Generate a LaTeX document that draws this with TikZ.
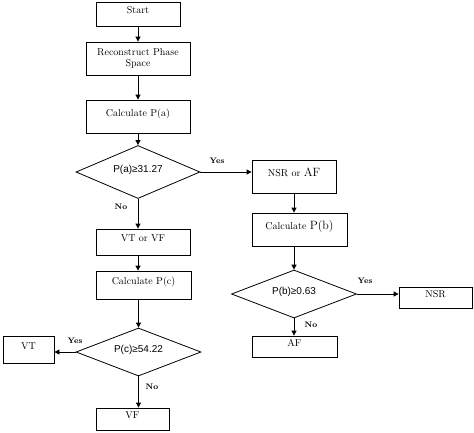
\documentclass[tikz,border=0pt]{standalone}
\usepackage{fontspec}
\usepackage{tikz}
\usetikzlibrary{shapes.geometric,arrows.meta}
\newfontfamily\diafont{Liberation Sans}

\tikzset{
  box/.style={draw, rectangle, inner sep=0pt, text height=7pt, text depth=8pt, font=\fontsize{10}{11}\selectfont},
  dec/.style={draw, diamond, aspect=2.3, inner sep=0pt, text height=7pt, text depth=6pt, font=\diafont\fontsize{10}{11}\selectfont},
  yn/.style={font=\bfseries\fontsize{8}{9}\selectfont, inner sep=0pt},
  arr/.style={-{Triangle[length=5pt,width=5pt]}},
}

\begin{document}
\begin{tikzpicture}[x=1pt, y=-1pt, line width=0.8pt]
			\useasboundingbox (0,0) rectangle (474,432);
			\node[box, minimum width=84pt, minimum height=24pt] (start) at (138,14) {Start};
			\node[draw, rectangle, inner sep=0pt, align=center, font=\fontsize{10}{11}\selectfont, minimum width=104pt, minimum height=33pt] (recon) at (138,58.5) {Reconstruct Phase\\Space};
			\node[box, minimum width=104pt, minimum height=33pt] (calca) at (138,116.5) {Calculate P(a)};
			\node[dec, minimum width=124pt, minimum height=53pt] (deca) at (138,172) {P(a)≥31.27};
			\node[box, minimum width=84pt, minimum height=33pt] (nsraf) at (294,176.5) {NSR or {\fontsize{12}{12}\selectfont AF}};
			\node[box, minimum width=95pt, minimum height=33pt] (calcb) at (299.5,229.5) {Calculate {\fontsize{12}{12}\selectfont P(b)}};
			\node[dec, minimum width=125pt, minimum height=48pt] (decb) at (294,294) {P(b)≥0.63};
			\node[box, minimum width=73pt, minimum height=21pt] (nsr) at (435.5,297.5) {NSR};
			\node[box, minimum width=85pt, minimum height=21pt] (af) at (294.5,346.5) {AF};
			\node[box, minimum width=94pt, minimum height=26pt] (vtvf) at (143,242) {VT or VF};
			\node[box, minimum width=95pt, minimum height=28pt] (calcc) at (143.5,285) {Calculate P(c)};
			\node[dec, minimum width=125pt, minimum height=48pt] (decc) at (138.5,352) {P(c)≥54.22};
			\node[box, minimum width=51pt, minimum height=27pt] (vt) at (28.5,349.5) {VT};
			\node[box, minimum width=73pt, minimum height=22pt] (vf) at (132.5,419) {VF};
			\node[yn] (yesa) at (217,161) {Yes};
			\node[yn] (noa) at (121,207) {No};
			\node[yn] (yesb) at (365,281) {Yes};
			\node[yn] (nob) at (311,325) {No};
			\node[yn] (yesc) at (75,341) {Yes};
			\node[yn] (noc) at (152,387) {No};
			\draw[arr] (start.south) -- (recon.north);
			\draw[arr] (recon.south) -- (calca.north);
			\draw[arr] (calca.south) -- (deca.north);
			\draw[arr] (deca.east) -- (deca.east -| nsraf.west);
			\draw[arr] (nsraf.south) -- (nsraf.south |- calcb.north);
			\draw[arr] (decb.north |- calcb.south) -- (decb.north);
			\draw[arr] (decb.east) -- (decb.east -| nsr.west);
			\draw[arr] (decb.south) -- (decb.south |- af.north);
			\draw[arr] (deca.south) -- (deca.south |- vtvf.north);
			\draw[arr] (deca.south |- vtvf.south) -- (deca.south |- calcc.north);
			\draw[arr] (decc.north |- calcc.south) -- (decc.north);
			\draw[arr] (decc.west) -- (decc.west -| vt.east);
			\draw[arr] (decc.south) -- (decc.south |- vf.north);
\end{tikzpicture}
\end{document}
